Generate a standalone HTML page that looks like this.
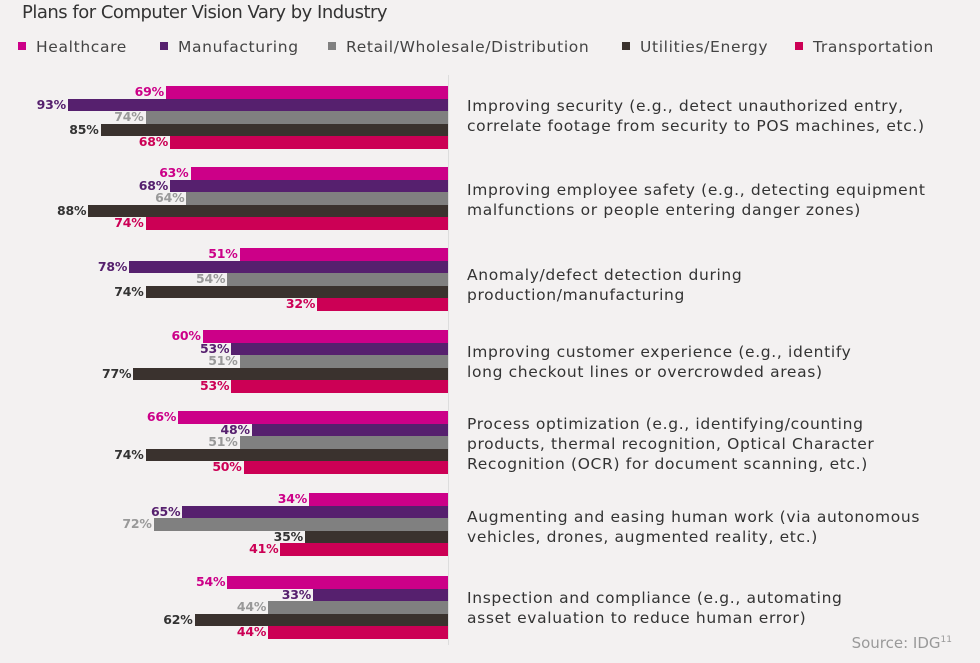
<!DOCTYPE html>
<html><head><meta charset="utf-8"><style>
body{margin:0;width:980px;height:663px;background:#f3f1f1;font-family:"Liberation Sans",sans-serif;position:relative;overflow:hidden}
.t{position:absolute;left:22px;top:2px;font-size:18px;color:#333;font-family:"DejaVu Sans",sans-serif;letter-spacing:-0.5px}
.lg{position:absolute;top:38px;font-size:15.5px;color:#444;letter-spacing:0.65px;font-family:"DejaVu Sans",sans-serif}
.lg i{display:inline-block;width:8px;height:8px;margin-right:10px;vertical-align:2px}
.b{position:absolute;right:532px;height:12.6px}
.v{position:absolute;font-size:12.5px;font-weight:bold;text-align:right;width:60px;font-family:"DejaVu Sans",sans-serif;letter-spacing:-0.2px}
.c{position:absolute;left:467px;font-size:15.5px;color:#333;line-height:20px;letter-spacing:0.65px;font-family:"DejaVu Sans",sans-serif;white-space:nowrap}
.src{position:absolute;right:28px;top:634px;font-size:15px;color:#999;font-family:"DejaVu Sans",sans-serif}
</style></head><body>
<div class="t">Plans for Computer Vision Vary by Industry</div>
<div class="lg" style="left:18px"><i style="background:#cc0088"></i>Healthcare</div>
<div class="lg" style="left:160px"><i style="background:#56206e"></i>Manufacturing</div>
<div class="lg" style="left:328px"><i style="background:#808080"></i>Retail/Wholesale/Distribution</div>
<div class="lg" style="left:622px"><i style="background:#3a322e"></i>Utilities/Energy</div>
<div class="lg" style="left:795px"><i style="background:#cc0055"></i>Transportation</div>
<div style="position:absolute;left:448px;top:75px;width:1px;height:570px;background:#ddd"></div>
<div id="bars"></div>
<div class="c" style="top:96px">Improving security (e.g., detect unauthorized entry,<br>correlate footage from security to POS machines, etc.)</div>
<div class="c" style="top:180px">Improving employee safety (e.g., detecting equipment<br>malfunctions or people entering danger zones)</div>
<div class="c" style="top:265px">Anomaly/defect detection during<br>production/manufacturing</div>
<div class="c" style="top:342px">Improving customer experience (e.g., identify<br>long checkout lines or overcrowded areas)</div>
<div class="c" style="top:414px">Process optimization (e.g., identifying/counting<br>products, thermal recognition, Optical Character<br>Recognition (OCR) for document scanning, etc.)</div>
<div class="c" style="top:507px">Augmenting and easing human work (via autonomous<br>vehicles, drones, augmented reality, etc.)</div>
<div class="c" style="top:588px">Inspection and compliance (e.g., automating<br>asset evaluation to reduce human error)</div>
<div class="src">Source: IDG<sup style="font-size:9px">11</sup></div>
<script>
var d=[[69,93,74,85,68],[63,68,64,88,74],[51,78,54,74,32],[60,53,51,77,53],[66,48,51,74,50],[34,65,72,35,41],[54,33,44,62,44]];
var tops=[86,167,248,330,411,493,576];
var cols=["#cc0088","#56206e","#808080","#3a322e","#cc0055"];
var lc=["#cc0088","#56206e","#999","#333","#cc0055"];
var h="";
d.forEach(function(g,i){g.forEach(function(v,j){var y=tops[i]+j*12.6,w=v*4.087;
h+='<div class="b" style="top:'+y+'px;width:'+w+'px;background:'+cols[j]+'"></div>';
h+='<div class="v" style="top:'+(y-2)+'px;left:'+(448-w-62)+'px;color:'+lc[j]+'">'+v+'%</div>';});});
document.getElementById("bars").innerHTML=h;
</script>
</body></html>
